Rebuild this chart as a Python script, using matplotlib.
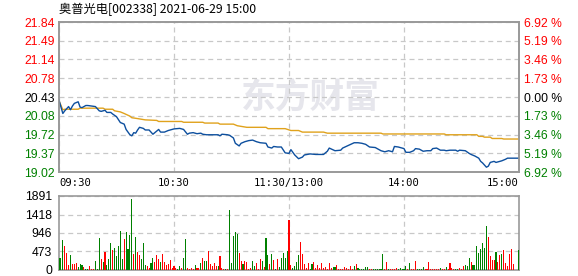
import matplotlib
matplotlib.use('Agg')
import matplotlib.pyplot as plt

plt.rcParams['font.family'] = ['Liberation Sans', 'DejaVu Sans']

# 分时价格 (minute index, price)
t_price = [0, 2, 3, 5, 6, 7, 8, 10, 11, 12, 14, 15, 17, 19, 21, 22, 24, 25, 27, 28,
           30, 32, 34, 35, 37, 38, 39, 40, 41, 42, 44, 45, 47, 49, 50, 52, 53, 55, 57, 60,
           63, 65, 67, 68, 70, 72, 74, 75, 77, 83, 84, 85, 88, 89, 91, 92, 94, 95, 97, 99,
           101, 103, 105, 108, 109, 111, 112, 114, 116, 118, 120, 121, 123, 125, 127, 128, 131, 134, 138, 140,
           141, 144, 147, 148, 151, 154, 156, 158, 160, 162, 165, 168, 170, 172, 174, 175, 177, 179, 180, 181,
           183, 185, 186, 188, 190, 192, 194, 195, 197, 199, 201, 202, 204, 207, 208, 209, 212, 214, 215, 217,
           219, 220, 221, 223, 224, 225, 227, 228, 230, 231, 233, 234, 237, 240]
price = [20.37, 20.12, 20.17, 20.25, 20.19, 20.26, 20.31, 20.34, 20.24, 20.23, 20.27, 20.27, 20.26, 20.25, 20.17, 20.16, 20.18, 20.14, 20.14, 20.11,
         20.06, 19.95, 19.92, 19.82, 19.72, 19.70, 19.76, 19.75, 19.81, 19.86, 19.84, 19.81, 19.81, 19.73, 19.76, 19.82, 19.77, 19.77, 19.80, 19.83,
         19.84, 19.82, 19.73, 19.75, 19.76, 19.74, 19.75, 19.73, 19.72, 19.72, 19.70, 19.73, 19.72, 19.71, 19.66, 19.56, 19.51, 19.56, 19.59, 19.61,
         19.62, 19.59, 19.57, 19.56, 19.49, 19.47, 19.50, 19.49, 19.49, 19.38, 19.37, 19.44, 19.34, 19.27, 19.30, 19.34, 19.36, 19.35, 19.35, 19.41,
         19.47, 19.42, 19.43, 19.47, 19.52, 19.57, 19.57, 19.56, 19.54, 19.49, 19.48, 19.42, 19.40, 19.42, 19.40, 19.50, 19.49, 19.47, 19.46, 19.39,
         19.39, 19.42, 19.46, 19.45, 19.41, 19.42, 19.42, 19.46, 19.47, 19.43, 19.43, 19.42, 19.43, 19.43, 19.41, 19.43, 19.42, 19.37, 19.35, 19.32,
         19.28, 19.22, 19.19, 19.11, 19.13, 19.20, 19.22, 19.20, 19.22, 19.23, 19.26, 19.28, 19.28, 19.28]

# 均价
t_avg = [0, 2, 3, 10, 11, 23, 24, 28, 29, 32, 34, 37, 38, 40, 45, 51, 52, 64, 65, 75,
         76, 83, 84, 91, 93, 98, 108, 109, 118, 121, 125, 127, 138, 140, 168, 169, 180, 201, 202, 218,
         219, 221, 222, 225, 226, 231, 232, 240]
avg = [20.36, 20.19, 20.20, 20.20, 20.22, 20.22, 20.20, 20.20, 20.17, 20.15, 20.12, 20.07, 20.04, 20.03, 20.00, 19.99, 19.97, 19.97, 19.955, 19.955,
       19.94, 19.94, 19.92, 19.92, 19.89, 19.86, 19.86, 19.835, 19.835, 19.80, 19.80, 19.77, 19.77, 19.75, 19.75, 19.735, 19.735, 19.735, 19.72, 19.72,
       19.69, 19.69, 19.675, 19.675, 19.65, 19.65, 19.64, 19.64]

# 成交量, one bar per minute; colour string row by row (r = 涨, g = 跌)
volume = [318, 318, 769, 610, 424, 133, 371, 159, 159, 186, 88,
          150, 133, 80, 27, 27, 106, 27, 27, 239, 27,
          822, 292, 212, 451, 133, 292, 690, 504, 557, 345,
          610, 1008, 292, 796, 981, 530, 902, 1803, 398, 849,
          451, 371, 292, 690, 133, 106, 53, 186, 318, 212,
          371, 292, 212, 398, 212, 133, 159, 265, 53, 106,
          53, 27, 106, 53, 318, 796, 53, 27, 53, 27,
          133, 53, 53, 186, 318, 239, 239, 477, 159, 106,
          186, 106, 106, 345, 53, 27, 27, 27, 1538, 186,
          875, 981, 928, 424, 239, 159, 239, 212, 27, 53,
          239, 106, 186, 27, 292, 239, 80, 822, 371, 159,
          398, 265, 27, 292, 80, 318, 424, 318, 477,
          1273,
          133, 53, 106, 212, 371, 716, 398, 159, 53, 186,
          27, 159, 212, 53, 133, 53, 186, 53, 80, 27,
          186, 53, 80, 80, 133, 27, 27, 27, 80, 53,
          27, 106, 27, 106, 159, 53, 27, 27, 27, 80,
          80, 27, 27, 27, 27, 27, 27, 27, 398, 27, 212,
          27, 27, 27, 27, 53, 27, 53, 27,
          27, 106, 27, 186, 27, 27, 239, 27, 27, 27,
          80, 27, 27, 212, 27, 27, 27, 27, 27, 53, 27,
          27, 80, 27, 186, 53, 27, 27, 27, 53, 27,
          106, 133, 106, 318, 212, 133, 133, 610, 424, 530,
          690, 557, 1114, 849, 345, 265, 265, 451, 212, 371,
          398, 504, 186, 106, 398, 530, 159, 10, 10, 504]
vol_color = ('gggrrrgrrrg' 'ggrggrrrgg' 'grgrgggrgg' 'gggrggggrg' 'rrgggrrggr' 'rrgrrrrrrr'
             'rggrggrrrr' 'grrgrggrrr' 'rrgrrrgrgg' 'gggrrgrrrr' 'ggrrrgrggr' 'grgrggggg'
             'r'
             'rggggrrrrr' 'ggrrrrrrrr' 'rrggrrrrrr' 'rrrgrggggg' 'grrggggggrr' 'grrrrggg'
             'ggrgrrrggg' 'grrrrrrrrgr' 'rgrrrrggrr' 'rgggrggggg' 'gggrrrrgrr' 'grrrrrrrrg')

price_ticks = [19.02, 19.37, 19.72, 20.08, 20.43, 20.78, 21.14, 21.49, 21.84]
pct_labels = ['6.92 %', '5.19 %', '3.46 %', '1.73 %', '0.00 %', '1.73 %', '3.46 %', '5.19 %', '6.92 %']
tick_colors = ['#008000'] * 4 + ['#000000'] + ['#ff0000'] * 4
vol_ticks = [0, 473, 946, 1418, 1891]
time_ticks = [0, 60, 120, 180, 240]
time_labels = ['09:30', '10:30', '11:30/13:00', '14:00', '15:00']

fig = plt.figure(figsize=(5.78, 2.76), dpi=100)
ax = fig.add_axes([59 / 578, 104 / 276, 460 / 578, 150 / 276])
axv = fig.add_axes([59 / 578, 6 / 276, 460 / 578, 74 / 276])

grid_kw = dict(color='#c8c8c8', linestyle=(0, (4, 3)), linewidth=0.9)

# watermark
ax.text(131, 20.43, '东方财富', fontsize=25, fontweight='bold', color='#e6e6ec',
        family='Noto Sans CJK SC', ha='center', va='center', zorder=0)

ax.plot(t_avg, avg, color='#e0a21c', linewidth=1.0, zorder=3)
ax.plot(t_price, price, color='#0d4f9e', linewidth=1.0, zorder=4)
ax.set_xlim(0, 240)
ax.set_ylim(19.02, 21.84)
ax.set_yticks(price_ticks)
ax.set_yticklabels(['%.2f' % v for v in price_ticks])
for lab, c in zip(ax.get_yticklabels(), tick_colors):
    lab.set_color(c)
ax.set_xticks(time_ticks)
ax.set_xticklabels(time_labels, family='DejaVu Sans Mono', fontsize=7.6)
xl = ax.get_xticklabels()
xl[0].set_ha('left')
xl[-1].set_ha('right')
ax.tick_params(axis='y', length=0, pad=3, labelsize=8.7)
ax.tick_params(axis='x', length=0, pad=4)
ax.grid(True, **grid_kw)

axr = ax.twinx()
axr.set_ylim(19.02, 21.84)
axr.set_yticks(price_ticks)
axr.set_yticklabels(pct_labels[::-1])
for lab, c in zip(axr.get_yticklabels(), tick_colors):
    lab.set_color(c)
axr.tick_params(axis='y', length=0, pad=3.5, labelsize=8.7)

x_vol = list(range(len(volume)))
cols = ['#ff0000' if c == 'r' else '#008000' for c in vol_color]
axv.bar(x_vol, volume, width=0.55, color=cols, linewidth=0, zorder=3)
axv.set_xlim(0, 240)
axv.set_ylim(0, 1891)
axv.set_yticks(vol_ticks)
axv.set_yticklabels([str(v) for v in vol_ticks])
axv.set_xticks([60, 120, 180])
axv.tick_params(axis='x', length=0, labelbottom=False)
axv.tick_params(axis='y', length=0, pad=5, labelsize=8.7)
axv.grid(True, **grid_kw)

for a in (ax, axr, axv):
    for s in a.spines.values():
        s.set_color('#999999')
        s.set_linewidth(1.2)

fig.text(59 / 578, 1 - 9 / 276, '奥普光电[002338] 2021-06-29 15:00', fontsize=8.8,
         family=['Noto Sans CJK SC', 'DejaVu Sans'], va='center', ha='left')

fig.savefig('out.png', dpi=100)
